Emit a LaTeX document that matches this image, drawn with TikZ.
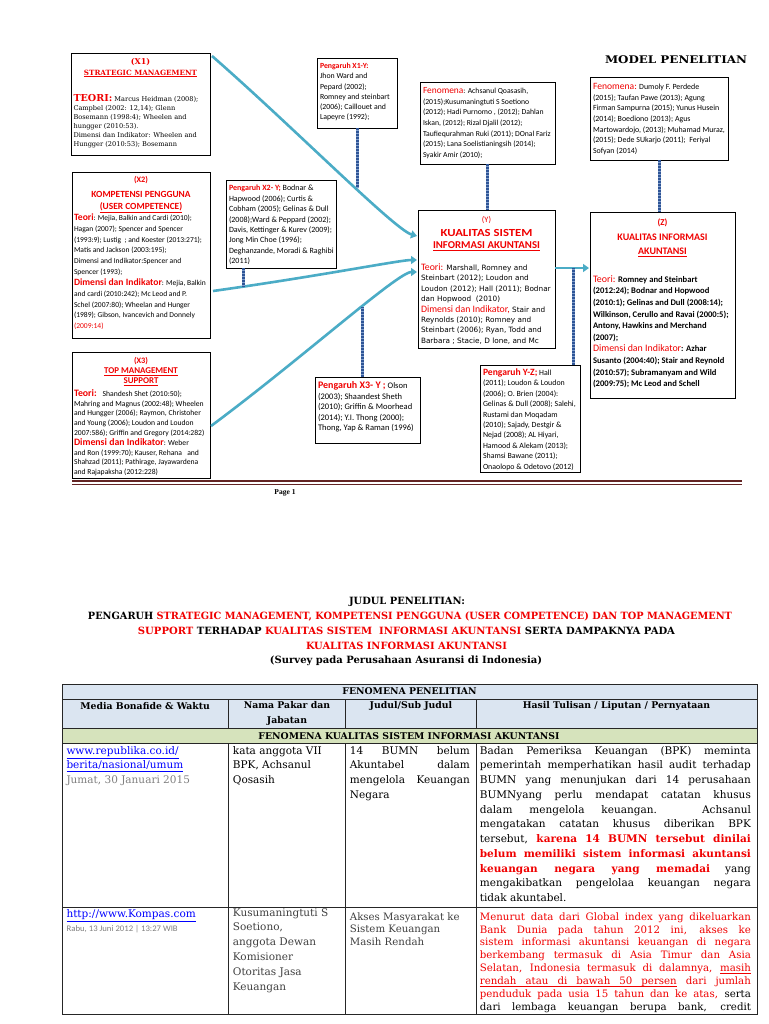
\documentclass[tikz,border=0pt]{standalone}
\usepackage{graphicx}
\usepackage{fontspec}
\setmainfont{Carlito}
\newfontfamily\slab{DejaVu Serif}
\newfontfamily\dsans{DejaVu Sans}
\newfontfamily\libser{Liberation Serif}
\usetikzlibrary{arrows.meta,calc}
\definecolor{rd}{RGB}{240,0,0}
\definecolor{arrc}{RGB}{75,172,198}
\definecolor{dotc}{RGB}{46,84,150}
\definecolor{dotlight}{RGB}{130,160,205}
\definecolor{hdrblue}{RGB}{219,229,241}
\definecolor{hdrgreen}{RGB}{214,227,188}
\definecolor{foot}{RGB}{99,36,35}
\definecolor{lnk}{RGB}{0,0,255}
\definecolor{gr}{RGB}{128,128,128}
\newcommand{\fs}[2]{\fontsize{#1}{#2}\selectfont}
\newcommand{\Rd}[1]{\textcolor{rd}{#1}}
\newcommand{\jl}[2]{\makebox[#1][s]{#2}}
\newcommand{\fitw}[2]{\resizebox{#1}{\height}{#2}}
\newcommand{\ulw}[1]{\setbox0\hbox{#1}\rlap{\rule[-2.2pt]{\wd0}{0.6pt}}\box0\relax}
\newcommand{\uls}{\leaders\hrule height -1.6pt depth 2.2pt\hskip\fontdimen2\font plus\fontdimen3\font minus\fontdimen4\font\relax}
\begin{document}
\begin{tikzpicture}[x=1pt,y=-1pt,
  bx/.style={draw=black,line width=0.75pt,fill=white,anchor=north west,inner sep=0pt,outer sep=0pt},
  tx/.style={anchor=north west,inner sep=0pt,outer sep=0pt,align=left},
  hd/.style={inner sep=0pt,outer sep=0pt,text=rd},
  arr/.style={draw=arrc,line width=2.6pt,-{Triangle[length=6pt,width=8pt]}},
  dotl/.style={preaction={draw=dotlight,solid,line width=3pt},draw=dotc,line width=3pt,dash pattern=on 2.2pt off 0.8pt},
  cellt/.style={anchor=north west,inner sep=0pt,outer sep=0pt,align=left},
  tl/.style={inner sep=0pt,outer sep=0pt},
  grid/.style={draw=black!85,line width=0.8pt},
]
\fill[white] (0,0) rectangle (768,1024);
\useasboundingbox (0,0) rectangle (768,1024);

% ---------- boxes ----------
\node[bx,minimum width=139pt,minimum height=102pt] (x1) at (71,53) {};
\node[bx,minimum width=138pt,minimum height=166pt] (x2) at (72,172) {};
\node[bx,minimum width=138pt,minimum height=126pt] (x3) at (72,352) {};
\node[bx,minimum width=80pt,minimum height=70pt] (p1) at (317,58) {};
\node[bx,minimum width=110pt,minimum height=88pt] (p2) at (226,180) {};
\node[bx,minimum width=105pt,minimum height=66pt] (p3) at (315,377) {};
\node[bx,minimum width=135pt,minimum height=82pt] (fy) at (420,82) {};
\node[bx,minimum width=137pt,minimum height=138pt] (y) at (418,210) {};
\node[bx,minimum width=138pt,minimum height=83pt] (fz) at (590,77) {};
\node[bx,minimum width=145pt,minimum height=186pt] (z) at (590,212) {};
\node[bx,minimum width=100pt,minimum height=107pt] (pyz) at (480,365) {};

% ---------- arrows ----------
\draw[arr] ($(x1.north east)+(2,3)$) .. controls (290,124) and (395,230) .. ($(y.north west)+(-1,26)$);
\draw[arr] ($(x2.north east)+(3,119)$) .. controls (320,276) and (400,260) .. ($(y.north west)+(-1,50)$);
\draw[arr] ($(x3.north east)+(1,74)$) .. controls (300,360) and (398,272) .. ($(y.north west)+(-1,62)$);
\draw[arr] ($(y.north east)+(0,58)$) -- ($(z.north west)+(-1,56)$);

\coordinate (m1) at (357,188);
\coordinate (m2) at (243,286.5);
\coordinate (m3) at (362,307);
\coordinate (m4) at (573,268);
\draw[dotl] (p1.south) -- (m1);
\draw[dotl] ($(p2.south west)+(17,0)$) -- (m2);
\draw[dotl] ($(p3.north west)+(47,0)$) -- (m3);
\draw[dotl] ($(pyz.north west)+(93,0)$) -- (m4);
\draw[dotl] (fy.south) -- (fy.south |- y.north);
\draw[dotl] (fz.south) -- (fz.south |- z.north);

% ---------- X1 ----------
\node[hd,font=\slab\bfseries\fs{8}{9}] (x1a) at (140.5,62) {(X1)};
\node[hd,font=\slab\bfseries\fs{7.2}{9}] (x1b) at (140.5,73.5) {\underline{STRATEGIC MANAGEMENT}};
\node[tx,font=\slab\fs{6.6}{9}] (x1c) at (73.5,94.8) {\Rd{\bfseries\fs{9.6}{9}TEORI:} Marcus Heidman (2008);\\Campbel (2002: 12,14); Glenn\\Bosemann (1998:4); Wheelen and\\hungger (2010:53).\\Dimensi dan Indikator: Wheelen and\\Hungger (2010:53); Bosemann};

% ---------- X2 ----------
\node[hd,font=\bfseries\fs{8.3}{9}] (x2a) at (141,180.5) {(X2)};
\node[hd,font=\bfseries\fs{9.4}{10}] (x2b) at (141,194.5) {KOMPETENSI PENGGUNA};
\node[hd,font=\bfseries\fs{9.4}{10}] (x2c) at (141,208) {\underline{(USER COMPETENCE)}};
\node[tx,font=\fs{7.55}{10.85}] (x2d) at (74,213.6) {\Rd{\bfseries\fs{9.6}{10.85}Teori}: Mejia, Balkin and Cardi (2010);\\Hagan (2007); Spencer and Spencer\\(1993:9); Lustig~ ; and Koester (2013:271);\\Matis and Jackson (2003:195);\\Dimensi and Indikator:Spencer and\\Spencer (1993);\\\Rd{\bfseries\fs{9.6}{10.85}Dimensi dan Indikator}: Mejia, Balkin\\and cardi (2010:242); Mc Leod and P.\\Schel (2007:80); Wheelan and Hunger\\(1989); Gibson, Ivancevich and Donnely\\\Rd{(2009:14)}};

% ---------- X3 ----------
\node[hd,font=\bfseries\fs{8.3}{9}] (x3a) at (141,361) {(X3)};
\node[hd,font=\bfseries\fs{8.9}{10}] (x3b) at (141,371.5) {\underline{TOP MANAGEMENT}};
\node[hd,font=\bfseries\fs{8.9}{10}] (x3c) at (141,382) {\underline{SUPPORT}};
\node[tx,font=\fs{7.65}{9.8}] (x3d) at (74,389.5) {\Rd{\bfseries\fs{9.8}{9.8}Teori:}~~ Shandesh Shet (2010:50);\\Mahring and Magnus (2002:48); Wheelen\\and Hungger (2006); Raymon, Christoher\\and Young (2006); Loudon and Loudon\\2007:586); Griffin and Gregory (2014:282)\\\Rd{\bfseries\fs{9.8}{9.8}Dimensi dan Indikator}: Weber\\and Ron (1999:70); Kauser, Rehana~~ and\\Shahzad (2011); Pathirage, Jayawardena\\and Rajapaksha (2012:228)};

% ---------- Pengaruh boxes ----------
\node[tx,font=\fs{7.8}{10.2}] (p1t) at (320,63.3) {\Rd{\bfseries Pengaruh X1-Y:}\\Jhon Ward and\\Pepard (2002);\\Romney and steinbart\\(2006); Caillouet and\\Lapeyre (1992);};
\node[tx,font=\fs{8}{10.45}] (p2t) at (229,185.1) {\Rd{\bfseries Pengaruh X2- Y;} Bodnar \&\\Hapwood (2006); Curtis \&\\Cobham (2005); Gelinas \& Dull\\(2008);Ward \& Peppard (2002);\\Davis, Kettinger \& Kurev (2009);\\Jong Min Choe (1996);\\Deghanzande, Moradi \& Raghibi\\(2011)};
\node[tx,font=\fs{8.5}{10.5}] (p3t) at (318,381.5) {\Rd{\bfseries\fs{10}{10.5}Pengaruh X3- Y ;} Olson\\(2003); Shaandest Sheth\\(2010); Griffin \& Moorhead\\(2014); Y.I. Thong (2000);\\Thong, Yap \& Raman (1996)};
\node[tx,font=\fs{7.9}{10.45}] (pyzt) at (483,368.5) {\Rd{\bfseries\fs{9.6}{10.45}Pengaruh Y-Z;} Hall\\(2011); Loudon \& Loudon\\(2006); O. Brien (2004):\\Gelinas \& Dull (2008); Salehi,\\Rustami dan Moqadam\\(2010); Sajady, Destgir \&\\Nejad (2008); AL Hiyari,\\Hamood \& Alekam (2013);\\Shamsi Bawane (2011);\\Onaolopo \& Odetovo (2012)};

% ---------- Fenomena boxes ----------
\node[tx,font=\fs{7.7}{10.7}] (fyt) at (423,87.3) {\Rd{\fs{9.4}{10.7}Fenomena}: Achsanul Qoasasih,\\(2015);Kusumaningtuti S Soetiono\\(2012); Hadi Purnomo , (2012); Dahlan\\Iskan, (2012); Rizal Djalil (2012);\\Taufiequrahman Ruki (2011); DOnal Fariz\\(2015); Lana Soelistianingsih (2014);\\Syakir Amir (2010);};
\node[tx,font=\fs{7.9}{10.7}] (fzt) at (593,83.3) {\Rd{\fs{9.6}{10.7}Fenomena:} Dumoly F. Perdede\\(2015); Taufan Pawe (2013); Agung\\Firman Sampurna (2015); Yunus Husein\\(2014); Boediono (2013); Agus\\Martowardojo, (2013); Muhamad Muraz,\\(2015); Dede SUkarjo (2011);~ Feriyal\\Sofyan (2014)};

% ---------- Y ----------
\node[hd,font=\fs{8.3}{9}] (ya) at (486.5,220) {(Y)};
\node[hd,font=\bfseries\fs{10.8}{11}] (yb) at (486.5,232.5) {\fitw{92pt}{KUALITAS SISTEM}};
\node[hd,font=\bfseries\fs{10.5}{11}] (yc) at (486.5,246.5) {\underline{\fitw{107pt}{INFORMASI AKUNTANSI}}};
\node[tx,font=\dsans\fs{7.3}{10.4}] (yd) at (421,263.8) {\Rd{\rmfamily\fs{9.8}{10.4}Teori:} Marshall, Romney and\\Steinbart (2012); Loudon and\\Loudon (2012); Hall (2011); Bodnar\\dan Hopwood~ (2010)\\\Rd{\rmfamily\fs{9.8}{10.4}Dimensi dan Indikator,} Stair and\\Reynolds (2010); Romney and\\Steinbart (2006); Ryan, Todd and\\Barbara ; Stacie, D lone, and Mc};

% ---------- Z ----------
\node[hd,font=\bfseries\fs{9}{10}] (za) at (662.5,223) {(Z)};
\node[hd,font=\bfseries\fs{10}{11}] (zb) at (662.5,237.5) {KUALITAS INFORMASI};
\node[hd,font=\bfseries\fs{10}{11}] (zc) at (662.5,252) {\underline{AKUNTANSI}};
\node[tx,font=\bfseries\fs{8.6}{11.6}] (zd) at (593,275.5) {\Rd{\mdseries\fs{9.9}{11.6}Teori:} Romney and Steinbart\\(2012:24); Bodnar and Hopwood\\(2010:1); Gelinas and Dull (2008:14);\\Wilkinson, Cerullo and Ravai (2000:5);\\Antony, Hawkins and Merchand\\(2007);\\\Rd{\mdseries\fs{9.9}{11.6}Dimensi dan Indikator}: Azhar\\Susanto (2004:40); Stair and Reynold\\(2010:57); Subramanyam and Wild\\(2009:75); Mc Leod and Schell};

% ---------- header / footer ----------
\node[tl,font=\slab\bfseries\fs{10.5}{12}] (mp) at (676,60) {\fitw{142pt}{MODEL PENELITIAN}};
\draw[foot,line width=2.2pt] (72,481) -- (742,481);
\draw[foot,line width=0.6pt] (72,484.6) -- (742,484.6);
\node[tl,font=\libser\bfseries\fs{7.5}{9}] (pg) at (285,493) {Page 1};

% ---------- title ----------
\node[tl,font=\slab\bfseries\fs{10}{12}] (t1) at (407,602) {\fitw{116pt}{JUDUL PENELITIAN:}};
\node[tl,font=\slab\bfseries\fs{10}{12}] (t2) at (410,616.5) {\fitw{644pt}{PENGARUH \Rd{STRATEGIC MANAGEMENT, KOMPETENSI PENGGUNA (USER COMPETENCE) DAN TOP MANAGEMENT}}};
\node[tl,font=\slab\bfseries\fs{10}{12}] (t3) at (406.5,631) {\fitw{537pt}{\Rd{SUPPORT} TERHADAP \Rd{KUALITAS SISTEM~ INFORMASI AKUNTANSI} SERTA DAMPAKNYA PADA}};
\node[tl,font=\slab\bfseries\fs{10}{12}] (t4) at (406.5,645.5) {\fitw{201pt}{\Rd{KUALITAS INFORMASI AKUNTANSI}}};
\node[tl,font=\slab\bfseries\fs{10}{12}] (t5) at (406,661) {\fitw{272pt}{(Survey pada Perusahaan Asuransi di Indonesia)}};

% ---------- table ----------
\fill[hdrblue] (62,684.3) rectangle (757,728.3);
\fill[hdrgreen] (62,728.3) rectangle (757,743.3);
\draw[grid] (62,684.3) rectangle (757,1014.3);
\draw[grid] (62,699) -- (757,699);
\draw[grid] (62,728.3) -- (757,728.3);
\draw[grid] (62,743.3) -- (757,743.3);
\draw[grid] (62,907.3) -- (757,907.3);
\foreach \cx in {228.4,345.8,476} {
  \draw[grid] (\cx,699) -- (\cx,728.3);
  \draw[grid] (\cx,743.3) -- (\cx,1014.3);
}
\node[tl,font=\slab\bfseries\fs{9.3}{11}] (h0) at (409.5,691) {FENOMENA PENELITIAN};
\node[tl,font=\slab\bfseries\fs{9.3}{11}] (h1) at (145.2,706) {Media Bonafide \& Waktu};
\node[tl,font=\slab\bfseries\fs{9.3}{15},align=center] (h2) at (287,713.2) {Nama Pakar dan\\Jabatan};
\node[tl,font=\slab\bfseries\fs{9.3}{11}] (h3) at (411,706) {Judul/Sub Judul};
\node[tl,font=\slab\bfseries\fs{9.3}{11}] (h4) at (616.5,706) {Hasil Tulisan / Liputan / Pernyataan};
\node[tl,font=\slab\bfseries\fs{9.3}{11}] (h5) at (409,736) {FENOMENA KUALITAS SISTEM INFORMASI AKUNTANSI};

% row 1
\node[cellt,font=\slab\fs{10.5}{14.7}] (r1a) at (66.5,746.2) {\textcolor{lnk}{\underline{www.republika.co.id/}}\\\textcolor{lnk}{\underline{berita/nasional/umum}}\\\textcolor{gr}{Jumat, 30 Januari 2015}};
\node[cellt,font=\slab\fs{10.5}{14.7}] (r1b) at (232.9,746.2) {kata anggota VII\\BPK, Achsanul\\Qosasih};
\node[cellt,font=\slab\fs{10.5}{14.7}] (r1c) at (349.9,746.2) {\jl{120pt}{14 BUMN belum}\\\jl{120pt}{Akuntabel dalam}\\\jl{120pt}{mengelola Keuangan}\\Negara};
\node[cellt,font=\slab\fs{10.5}{14.73}] (r1d) at (479.9,746.2) {\jl{271pt}{Badan Pemeriksa Keuangan (BPK) meminta}\\\jl{271pt}{pemerintah memperhatikan hasil audit terhadap}\\\jl{271pt}{BUMN yang menunjukan dari 14 perusahaan}\\\jl{271pt}{BUMNyang perlu mendapat catatan khusus}\\\jl{271pt}{dalam mengelola keuangan. Achsanul}\\\jl{271pt}{mengatakan catatan khusus diberikan BPK}\\\jl{271pt}{tersebut, \Rd{\bfseries karena 14 BUMN tersebut dinilai}}\\\jl{271pt}{\Rd{\bfseries belum memiliki sistem informasi akuntansi}}\\\jl{271pt}{\Rd{\bfseries keuangan negara yang memadai} yang}\\\jl{271pt}{mengakibatkan pengelolaa keuangan negara}\\tidak akuntabel.};

% row 2
\node[cellt,font=\slab\fs{10.5}{14.7}] (r2a) at (66.5,909.2) {\textcolor{lnk}{\underline{http://www.Kompas.com}}};
\node[anchor=west,inner sep=0pt,font=\fs{8.5}{9},text=gr] (r2b) at (66.5,929) {\fitw{111pt}{Rabu, 13 Juni 2012 | 13:27 WIB}};
\node[cellt,font=\slab\fs{10.5}{14.93},text=black!75] (r2c) at (232.9,908.2) {Kusumaningtuti S\\Soetiono,\\anggota Dewan\\Komisioner\\Otoritas Jasa\\Keuangan};
\node[cellt,font=\slab\fs{10.2}{12.7},text=black!75] (r2d) at (349.9,912.5) {Akses Masyarakat ke\\Sistem Keuangan\\Masih Rendah};
\node[cellt,font=\slab\fs{10.2}{12.86}] (r2e) at (479.9,912.5) {\jl{271pt}{\Rd{Menurut data dari Global index yang dikeluarkan}}\\\jl{271pt}{\Rd{Bank Dunia pada tahun 2012 ini, akses ke}}\\\jl{271pt}{\Rd{sistem informasi akuntansi keuangan di negara}}\\\jl{271pt}{\Rd{berkembang termasuk di Asia Timur dan Asia}}\\\jl{271pt}{\Rd{Selatan, Indonesia termasuk di dalamnya, \ulw{masih}}}\\\jl{271pt}{\Rd{\ulw{rendah}\uls\ulw{atau}\uls\ulw{di}\uls\ulw{bawah}\uls\ulw{50}\uls\ulw{persen} dari jumlah}}\\\jl{271pt}{\Rd{penduduk pada usia 15 tahun dan ke atas,} serta}\\\jl{271pt}{dari lembaga keuangan berupa bank, credit}};
\end{tikzpicture}
\end{document}
